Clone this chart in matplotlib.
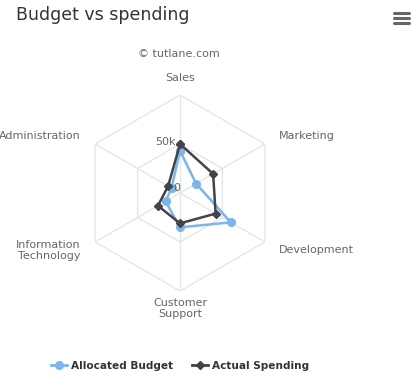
import numpy as np
import matplotlib
matplotlib.use("Agg")
import matplotlib.pyplot as plt
from matplotlib.lines import Line2D

categories = ["Sales", "Marketing", "Development", "Customer\nSupport",
              "Information\nTechnology", "Administration"]
allocated_budget = [43000, 19000, 60000, 35000, 17000, 10000]
actual_spending = [50000, 39000, 42000, 31000, 26000, 14000]
ticks = [0, 50000, 100000]
tick_labels = ["0", "50k", ""]

W, H = 412, 376
fig = plt.figure(figsize=(W / 100, H / 100), dpi=100)
plt.rcParams['font.family'] = ['DejaVu Sans']

# polar axes: centre (180,193) px, radius 98 px
cx, cy, R = 180, 193, 98
ax = fig.add_axes([(cx - R) / W, (H - cy - R) / H, 2 * R / W, 2 * R / H], projection='polar')
ax.set_theta_zero_location('N')
ax.set_theta_direction(-1)
ax.set_ylim(0, ticks[-1])
ax.grid(False)
ax.spines['polar'].set_visible(False)
ax.set_xticks([])
ax.set_yticks([])
ax.patch.set_alpha(0)

n = len(categories)
angles = np.arange(n) * 2 * np.pi / n
closed = np.append(angles, angles[0])

grid_col = '#e6e6e6'
for t in ticks[1:]:
    ax.plot(closed, [t] * (n + 1), color=grid_col, lw=1, zorder=1)
for a in angles:
    ax.plot([a, a], [0, ticks[-1]], color=grid_col, lw=1, zorder=1)

ax.plot(closed, allocated_budget + allocated_budget[:1], color='#7cb5ec', lw=1.8,
        marker='o', markersize=5.5, zorder=3, label='Allocated Budget', clip_on=False)
ax.plot(closed, actual_spending + actual_spending[:1], color='#434348', lw=1.8,
        marker='D', markersize=4.2, zorder=4, label='Actual Spending', clip_on=False)

# radial labels
ax.text(-0.6, 6000, tick_labels[0], fontsize=8, color='#666666', ha='center', va='center', zorder=5)
ax.text(-0.09, ticks[1] * 1.04, tick_labels[1], fontsize=8, color='#666666',
        ha='right', va='center', zorder=5)

# category labels
lab_r = 117000
for a, c in zip(angles, categories):
    s = np.sin(a)
    if abs(s) < 0.1:
        ha = 'center'
    elif s > 0:
        ha = 'left'
    else:
        ha = 'right'
    va = 'center'
    r = lab_r
    if abs(a - np.pi) < 0.1:
        va = 'top'
        r = 107000
    ax.text(a, r, c, fontsize=8, color='#666666', ha=ha, va=va,
            multialignment=ha if ha != 'center' else 'center', linespacing=1.15, clip_on=False)

fig.text(16 / W, 1 - 15 / H, "Budget vs spending", fontsize=12.5, color='#333333',
         ha='left', va='center')
fig.text(179 / W, 1 - 54 / H, "\u00a9 tutlane.com", fontsize=8, color='#666666',
         ha='center', va='center')

# menu icon
for yy in (13, 18, 23):
    fig.add_artist(Line2D([394 / W, 409 / W], [1 - yy / H, 1 - yy / H],
                          color='#666666', lw=2.2, solid_capstyle='round'))

handles = [
    Line2D([], [], color='#7cb5ec', lw=2, marker='o', markersize=5.5),
    Line2D([], [], color='#434348', lw=2, marker='D', markersize=4),
]
fig.legend(handles, ['Allocated Budget', 'Actual Spending'], loc='center',
           bbox_to_anchor=(180 / W, 1 - 366 / H), ncol=2, frameon=False,
           prop={'weight': 'bold', 'size': 7.6}, labelcolor='#333333',
           handlelength=1.5, handletextpad=0.4, columnspacing=1.8)

fig.savefig('out.png', dpi=100)
